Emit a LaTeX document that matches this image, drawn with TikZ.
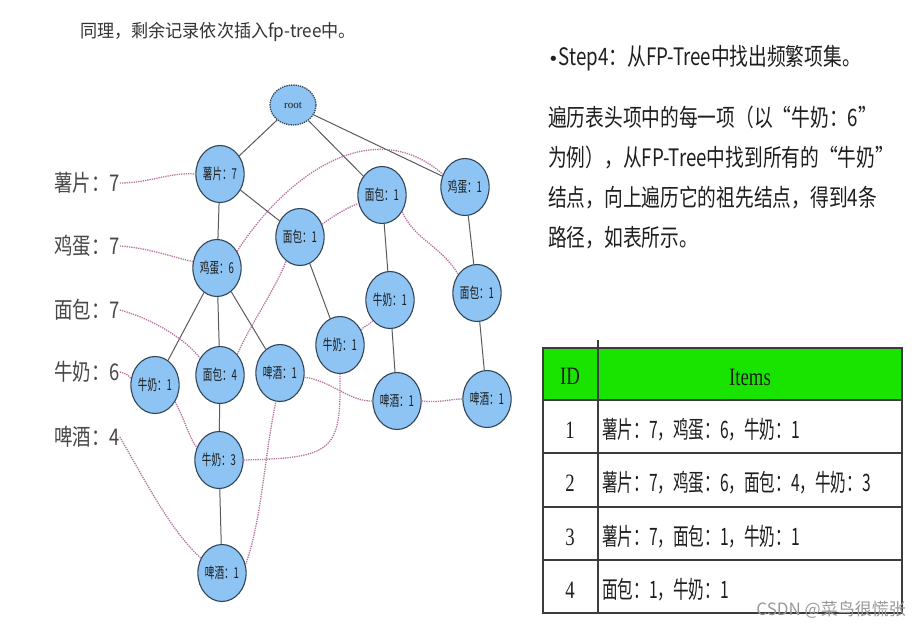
\documentclass[tikz,border=0pt]{standalone}
\usepackage{fontspec}
\usetikzlibrary{shapes.geometric}
\setmainfont{Liberation Serif}
\newfontfamily\cjkcap[FakeStretch=0.95]{Noto Sans CJK SC}
\newfontfamily\cjkbig[FakeStretch=0.78]{Noto Sans CJK SC}
\newfontfamily\cjkhd[FakeStretch=0.8]{Noto Sans CJK SC}
\newfontfamily\cjknode[FakeStretch=0.64]{Noto Sans CJK SC}
\newfontfamily\cjktab[FakeStretch=0.65]{Noto Sans CJK SC}
\newfontfamily\sertab[FakeStretch=0.75]{Liberation Serif}
\newfontfamily\wmfont{Noto Sans CJK SC}
\newfontfamily\bulletfont{DejaVu Sans}
\definecolor{nodefill}{RGB}{141,196,244}
\definecolor{nodeline}{RGB}{50,68,88}
\definecolor{edgec}{RGB}{90,90,90}
\definecolor{linkc}{RGB}{185,115,160}
\definecolor{hdrgreen}{RGB}{25,228,0}
\definecolor{txtc}{RGB}{30,30,30}
\definecolor{gridc}{RGB}{60,60,60}
\begin{document}
\begin{tikzpicture}[x=1pt,y=-1pt,
  tnode/.style={ellipse, draw=nodeline, line width=1.1pt, fill=nodefill,
    minimum width=42pt, minimum height=57pt, inner sep=0pt,
    font=\cjknode\fontsize{15}{15}\selectfont, text=txtc},
  rootnode/.style={ellipse, draw=nodeline, densely dotted, line width=1.3pt, fill=nodefill,
    minimum width=46pt, minimum height=40pt, inner sep=0pt,
    font=\fontsize{11}{11}\selectfont, text=txtc},
  hdr/.style={anchor=west, inner sep=0pt, font=\cjkhd\fontsize{23}{23}\selectfont, text=black!72},
  tedge/.style={draw=edgec, line width=1pt},
  nlink/.style={draw=linkc, densely dotted, line width=1.3pt},
  tabline/.style={draw=gridc, line width=1.3pt},
  tabid/.style={inner sep=0pt, font=\sertab\fontsize{25}{25}\selectfont, text=txtc},
  tabrow/.style={anchor=west, inner sep=0pt, font=\cjktab\fontsize{24}{24}\selectfont, text=txtc}
]
\useasboundingbox (0,0) rectangle (920,629);

% caption
\node[anchor=west, inner sep=0pt, font=\cjkcap\fontsize{18}{18}\selectfont, text=black!80] (cap) at (80,32) {同理，剩余记录依次插入fp-tree中。};

% header table (left)
\node[hdr] (hA) at (54,183) {薯片：7};
\node[hdr] (hB) at (54,246) {鸡蛋：7};
\node[hdr] (hC) at (54,310) {面包：7};
\node[hdr] (hD) at (54,372) {牛奶：6};
\node[hdr] (hE) at (54,437) {啤酒：4};

% tree nodes
\node[rootnode] (root) at (293,105) {root};
\node[tnode] (a1) at (220,174) {薯片：7};
\node[tnode] (a2) at (217,268) {鸡蛋：6};
\node[tnode] (a3) at (155,385) {牛奶：1};
\node[tnode] (a4) at (220,375) {面包：4};
\node[tnode] (a5) at (280,373) {啤酒：1};
\node[tnode] (a6) at (219,460) {牛奶：3};
\node[tnode] (a7) at (222,573) {啤酒：1};
\node[tnode] (b1) at (300,237) {面包：1};
\node[tnode] (b2) at (340,345) {牛奶：1};
\node[tnode] (c1) at (382,195) {面包：1};
\node[tnode] (c2) at (390,300) {牛奶：1};
\node[tnode] (c3) at (397,401) {啤酒：1};
\node[tnode] (d1) at (465,187) {鸡蛋：1};
\node[tnode] (d2) at (477,293) {面包：1};
\node[tnode] (d3) at (487,399) {啤酒：1};

% tree edges
\draw[tedge] (root) -- (a1);
\draw[tedge] (root) -- (c1);
\draw[tedge] (root) -- (d1);
\draw[tedge] (a1) -- (a2);
\draw[tedge] (a1) -- (b1);
\draw[tedge] (a2) -- (a3);
\draw[tedge] (a2) -- (a4);
\draw[tedge] (a2) -- (a5);
\draw[tedge] (a4) -- (a6);
\draw[tedge] (a6) -- (a7);
\draw[tedge] (b1) -- (b2);
\draw[tedge] (c1) -- (c2);
\draw[tedge] (c2) -- (c3);
\draw[tedge] (d1) -- (d2);
\draw[tedge] (d2) -- (d3);

% node links (dotted)
\draw[nlink] (hA.east) .. controls (150,183) and (170,172) .. (a1.west);
\draw[nlink] (hB.east) .. controls (150,248) and (175,258) .. (a2.165);
\draw[nlink] (hC.east) .. controls (150,318) and (185,338) .. (a4.140);
\draw[nlink] (hD.east) .. controls (125,373) and (130,376) .. (a3.165);
\draw[nlink] (hE.east) .. controls (145,480) and (170,530) .. (a7.145);
\draw[nlink] (a2.40) .. controls (290,170) and (375,115) .. (d1.150);
\draw[nlink] (a4.50) .. controls (250,325) and (275,290) .. (b1.240);
\draw[nlink] (b1.30) .. controls (335,215) and (348,207) .. (c1.200);
\draw[nlink] (c1.-40) .. controls (415,240) and (440,245) .. (d2.135);
\draw[nlink] (a3.-40) .. controls (185,420) and (190,440) .. (a6.150);
\draw[nlink] (a6.east) .. controls (335,458) and (341,450) .. (b2.south);
\draw[nlink] (b2.35) .. controls (363,326) and (370,325) .. (c2.230);
\draw[nlink] (a7.20) .. controls (262,520) and (265,450) .. (a5.262);
\draw[nlink] (a5.-10) .. controls (330,380) and (350,402) .. (c3.west);
\draw[nlink] (c3.east) .. controls (440,403) and (450,399) .. (d3.west);

% right text
\node[anchor=west, inner sep=0pt, font=\cjkbig\fontsize{24}{24}\selectfont, text=txtc] (step) at (548,58) {{\bulletfont\fontsize{18}{18}\selectfont •}Step4：从FP-Tree中找出频繁项集。};
\node[anchor=north west, inner sep=0pt, align=left, font=\cjkbig\fontsize{24}{40}\selectfont, text=txtc] (para) at (548,106)
 {遍历表头项中的每一项（以“牛奶：6”\\为例），从FP-Tree中找到所有的“牛奶”\\结点，向上遍历它的祖先结点，得到4条\\路径，如表所示。};

% result table
\fill[hdrgreen] (543,348) rectangle (902,400);
\draw[tabline] (543,348) rectangle (902,613);
\draw[tabline] (543,400) -- (902,400);
\draw[tabline] (543,453) -- (902,453);
\draw[tabline] (543,507) -- (902,507);
\draw[tabline] (543,560) -- (902,560);
\draw[tabline] (598,340) -- (598,613);
\node[tabid] (thid) at (570,376) {ID};
\node[tabid] (thit) at (750,377) {Items};
\node[tabid] (r1) at (570,430) {1};
\node[tabid] (r2) at (570,483) {2};
\node[tabid] (r3) at (570,537) {3};
\node[tabid] (r4) at (570,590) {4};
\node[tabrow] (t1) at (602,430) {薯片：7，鸡蛋：6，牛奶：1};
\node[tabrow] (t2) at (602,483) {薯片：7，鸡蛋：6，面包：4，牛奶：3};
\node[tabrow] (t3) at (602,537) {薯片：7，面包：1，牛奶：1};
\node[tabrow] (t4) at (602,590) {面包：1，牛奶：1};

% watermark
\node[anchor=east, inner sep=0pt, font=\wmfont\fontsize{17}{17}\selectfont, text=black!40] (wm) at (906,610) {CSDN @菜鸟很慌张};
\end{tikzpicture}
\end{document}
